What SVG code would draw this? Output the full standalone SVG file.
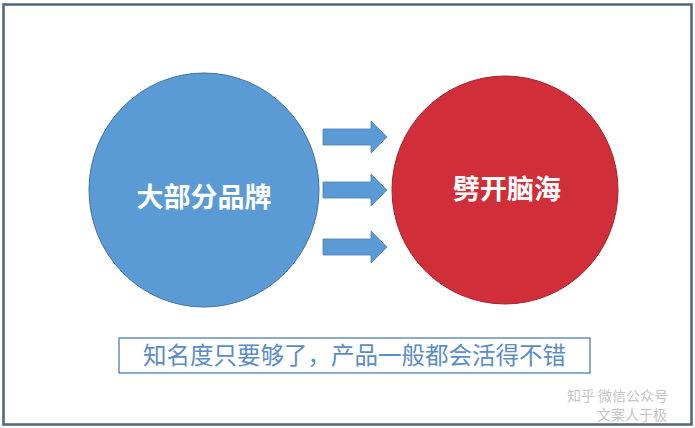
<svg xmlns="http://www.w3.org/2000/svg" width="695" height="428" viewBox="0 0 695 428">
<style>
.circ-text{font-family:"Noto Sans CJK SC","Noto Sans",sans-serif;font-weight:bold;font-size:27px;fill:#ffffff;text-anchor:middle}
.cap{font-family:"Noto Sans CJK SC","Noto Sans",sans-serif;font-size:23.5px;fill:#5a8cc6;text-anchor:middle}
.wm{font-family:"Noto Sans CJK SC","Noto Sans",sans-serif;font-size:14px;fill:#c4c4c4}
.arrow{fill:#5b9bd5;stroke:#4a7fb5;stroke-width:0.8}
</style>
<rect x="0" y="0" width="695" height="428" fill="#ffffff"/>
<rect x="3.5" y="4.5" width="688" height="420" fill="none" stroke="#56697c" stroke-width="2.6"/>
<g id="node-brands">
<ellipse cx="204" cy="190" rx="115" ry="117" fill="#5b9bd5" stroke="#41719c" stroke-width="1"/>
<text class="circ-text" x="204" y="207">大部分品牌</text>
</g>
<g id="node-mind">
<ellipse cx="505" cy="190" rx="113" ry="114" fill="#d02e39" stroke="#a3242d" stroke-width="1"/>
<text class="circ-text" x="507" y="199">劈开脑海</text>
</g>
<g id="connectors">
<path class="arrow" d="M323,129 L371,129 L371,121 L387,137 L371,153 L371,145 L323,145 Z"/>
<path class="arrow" d="M323,182 L371,182 L371,174 L387,190 L371,206 L371,198 L323,198 Z"/>
<path class="arrow" d="M323,239 L371,239 L371,231 L387,247 L371,263 L371,255 L323,255 Z"/>
</g>
<g id="caption">
<rect x="119" y="338" width="471" height="35" fill="#ffffff" stroke="#4f7fae" stroke-width="1.3"/>
<text class="cap" x="354.5" y="364">知名度只要够了，产品一般都会活得不错</text>
</g>
<g id="watermark">
<text class="wm" x="567" y="401">知乎</text>
<text class="wm" x="598" y="401">微信公众号</text>
<text class="wm" x="597" y="420">文案人于极</text>
</g>
</svg>
